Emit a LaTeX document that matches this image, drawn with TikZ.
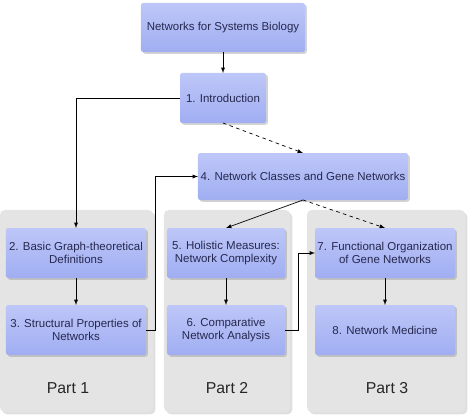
\documentclass[tikz,border=0pt]{standalone}
\usepackage{fontspec}
\setmainfont{Liberation Sans}
\usetikzlibrary{shadows}
\definecolor{boxtop}{RGB}{190,199,248}
\definecolor{boxbot}{RGB}{160,174,242}
\definecolor{boxtext}{RGB}{38,40,78}
\definecolor{partfill}{RGB}{228,228,228}
\begin{document}
\begin{tikzpicture}[x=0.03cm,y=-0.03cm,inner sep=0pt,outer sep=0pt,>=latex,semithick,
chapbox/.style={rectangle,rounded corners=2pt,top color=boxtop,bottom color=boxbot,
  text=boxtext,align=center,font=\fontsize{9.8}{11.5}\selectfont,minimum height=1.5cm,
  drop shadow={opacity=0.35,shadow xshift=1.5pt,shadow yshift=-1.5pt}},
partbox/.style={rectangle,rounded corners=4pt,fill=partfill,minimum height=6.06cm,
  drop shadow={opacity=0.25,shadow xshift=2pt,shadow yshift=-2pt}},
partlabel/.style={font=\fontsize{13.5}{15}\selectfont,text=black!85}]

\useasboundingbox (0,0) rectangle (474,420);

% parts in the background
\draw (76.5,311) node[partbox,minimum width=4.59cm] (part1) {};
\draw (227,311) node[partbox,minimum width=3.78cm] (part2) {};
\draw (386,311) node[partbox,minimum width=4.74cm] (part3) {};
\draw (68,388) node[partlabel] (lab1) {Part 1};
\draw (227,388) node[partlabel] (lab2) {Part 2};
\draw (387,388) node[partlabel] (lab3) {Part 3};

% chapters
\draw (223,27.5) node[chapbox,minimum width=4.92cm,minimum height=1.47cm] (book) {Networks for Systems Biology};
\draw (223,98) node[chapbox,minimum width=2.58cm] (intro) {1. Introduction};
\draw (303,176.5) node[chapbox,minimum width=6.3cm,minimum height=1.41cm] (classes) {4. Network Classes and Gene Networks};
\draw (76,253) node[chapbox,minimum width=4.2cm] (basic) {2. Basic Graph-theoretical\\Definitions};
\draw (76,330) node[chapbox,minimum width=4.2cm] (struct) {3. Structural Properties of\\Networks};
\draw (226,253) node[chapbox,minimum width=3.54cm] (holist) {5. Holistic Measures:\\Network Complexity};
\draw (226,330) node[chapbox,minimum width=3.54cm] (compar) {6. Comparative\\Network Analysis};
\draw (385,253) node[chapbox,minimum width=4.2cm] (funct) {7. Functional Organization\\of Gene Networks};
\draw (385,330) node[chapbox,minimum width=4.2cm] (medic) {8. Network Medicine};

% connections
\draw[->] (book) -- (intro);
\draw[->] (intro.west) -| (basic.north);
\draw[->,dashed] (intro.south) -- (classes.north);
\draw[->] (basic) -- (struct);
\draw[->] (struct.east) -- ++(9,0) |- (classes.west);
\draw[->] (classes.south) -- (holist.north);
\draw[->,dashed] (classes.south) -- (funct.north);
\draw[->] (holist) -- (compar);
\draw[->] (compar.east) -- ++(13,0) |- (funct.west);
\draw[->] (funct) -- (medic);
\end{tikzpicture}
\end{document}
